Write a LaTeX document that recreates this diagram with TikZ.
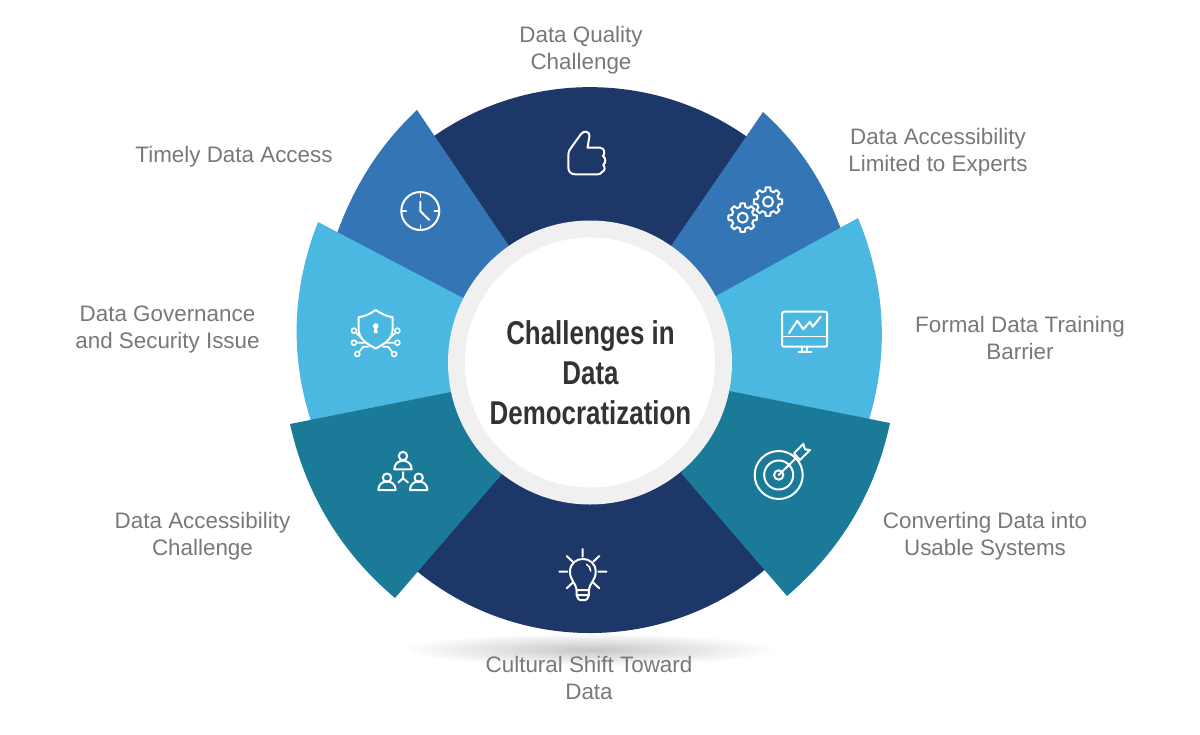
\documentclass[tikz,border=0pt]{standalone}
\usepackage{fontspec}
\setmainfont{Liberation Sans}
\newfontfamily\titlefont[FakeStretch=0.785]{Liberation Sans Bold}
\definecolor{navy}{HTML}{1C3768}
\definecolor{midblue}{HTML}{3476B5}
\definecolor{skyblue}{HTML}{4AB8E0}
\definecolor{teal2}{HTML}{1B7A98}
\definecolor{ringgray}{HTML}{F0F0F0}
\definecolor{labelgray}{HTML}{787878}
\definecolor{titlegray}{HTML}{333333}
\tikzset{
  label text/.style={font=\fontsize{22.4}{27}\selectfont, text=labelgray, align=center, inner sep=0pt},
  title text/.style={font=\titlefont\fontsize{33}{40}\selectfont, text=titlegray, align=center, inner sep=0pt},
  ic/.style={draw=white, line width=2pt, line join=round, line cap=round}
}
\newcommand{\geargen}[2]{%
  \begin{scope}[shift={(#1,#2)}]
    \draw[ic] (-22.5:11) \foreach \a in {0,45,...,315}{ -- (\a-14:11) -- (\a-9:14.4) -- (\a+9:14.4) -- (\a+14:11) -- (\a+22.5:11)} -- cycle;
    \draw[ic] (0,0) circle[radius=5];
  \end{scope}}
\newcommand{\personicon}[4]{% head x, head y, half width, base y
  \draw[ic] (#1,#2) circle[radius=4.2];
  \draw[ic] (#1-#3,#4) .. controls (#1-#3,#4-11.5) and (#1+#3,#4-11.5) .. (#1+#3,#4) -- cycle;}
\begin{document}
\begin{tikzpicture}[x=1pt,y=-1pt]
\useasboundingbox (0,0) rectangle (1200,734);
% floor shadow
\foreach \k in {1,...,28}
  \fill[black, opacity=0.0085] (590,650) ellipse[x radius={185*\k/28}, y radius={16*\k/28}];
% sectors
\path[fill=navy] (530,300) -- (414.5,151) arc[start angle=230, end angle=310, radius=273] -- (650,300) -- cycle;
\path[fill=navy] (530,430) -- (400.4,556.4) arc[start angle=134, end angle=46, radius=273] -- (650,430) -- cycle;
\path[fill=midblue] (509,246) -- (417,110) .. controls (380.67,144) and (354.33,184.67) .. (336,236) -- (470,310) -- cycle;
\path[fill=midblue] (671,246) -- (763,112) .. controls (798.67,144) and (824.33,182.67) .. (842,232) -- (710,310) -- cycle;
\path[fill=skyblue] (463,298) -- (318,222) .. controls (292,288.67) and (289.33,356) .. (312,424) -- (451,396) -- cycle;
\path[fill=skyblue] (716,296) -- (858,218) .. controls (886,286) and (889.33,354.33) .. (868,423) -- (729,395) -- cycle;
\path[fill=teal2] (451,392) -- (290,424) .. controls (305.67,494) and (340.67,552) .. (395,598) -- (502,474) -- cycle;
\path[fill=teal2] (729,391) -- (890,423) .. controls (875.13,492.33) and (840.8,550) .. (787,596) -- (681,473) -- cycle;
% hub
\fill[ringgray] (590,362.5) circle[radius=142];
\fill[white] (590,362.5) circle[radius=125];
\node[title text] (hub) at (590.5,373) {Challenges in\\Data\\Democratization};
% labels
\node[label text] (lquality) at (581,50) {Data Quality\\Challenge};
\node[label text] (lexperts) at (938,152.5) {Data Accessibility\\Limited to Experts};
\node[label text] (ltraining) at (1020,338) {Formal Data Training\\Barrier};
\node[label text] (lsystems) at (985,536.5) {Converting Data into\\Usable Systems};
\node[label text] (lculture) at (589,677.5) {Cultural Shift Toward\\Data};
\node[label text] (laccess) at (202.5,536.5) {Data Accessibility\\Challenge};
\node[label text] (lgov) at (167.5,329) {Data Governance\\and Security Issue};
\node[label text] (ltimely) at (234,157) {Timely Data Access};
% thumb icon
\draw[ic] (568.3,156) .. controls (568.3,151) and (570,149) .. (572,146.5) -- (581,134)
  .. controls (584,130) and (590,131.5) .. (589.5,136) -- (587.5,147.7) -- (600,147.7)
  .. controls (604.5,147.7) and (605.5,153.5) .. (603,156) .. controls (606,158) and (606,162.5) .. (603.2,165)
  .. controls (605.5,167) and (605,171) .. (602,172) .. controls (601,173.5) and (600,174.3) .. (598,174.3)
  -- (575,174.3) .. controls (571,174.3) and (568.3,171.5) .. (568.3,167.5) -- cycle;
% gears icon
\geargen{742.7}{217.7}
\geargen{768}{201.7}
% clock icon
\draw[ic] (420.3,211) circle[radius=19];
\draw[ic, line width=1.5pt] (420.3,192) -- (420.3,197) (420.3,230) -- (420.3,225) (401.3,211) -- (406.3,211) (439.3,211) -- (434.3,211);
\draw[ic] (420.3,201.7) -- (420.3,211) -- (429.3,220);
% shield icon
\draw[ic] (375.7,310) .. controls (370,314) and (364,316.5) .. (358.5,317.3) -- (358.5,329) .. controls (358.7,339) and (367,344) .. (375.7,348.5) .. controls (384.5,344) and (392.7,339) .. (392.7,329) -- (392.7,317.3) .. controls (387.5,316.5) and (381.5,314) .. (375.7,310) -- cycle;
\fill[white] (375.7,326) circle[radius=2.8];
\fill[white] (374.8,327) -- (373.6,333) -- (377.8,333) -- (376.6,327) -- cycle;
\foreach \px/\py in {354/330.7,354/342.7,357.3/354,397.4/330.7,397.4/342.7,394.1/354}
  \draw[ic, line width=1.6pt] (\px,\py) circle[radius=2.5];
\draw[ic, line width=1.6pt] (356.5,333.3) -- (361.7,338.3) (356.7,342.7) -- (365,342.7) (359.3,351.7) -- (363.3,346.7) -- (368.3,346.7);
\draw[ic, line width=1.6pt] (394.9,333.3) -- (389.7,338.3) (394.7,342.7) -- (386.4,342.7) (392.1,351.7) -- (388.1,346.7) -- (383.1,346.7);
% monitor icon
\draw[ic] (782,314) .. controls (782,312.5) and (782.7,311.7) .. (784.2,311.7) -- (825,311.7) .. controls (826.5,311.7) and (827.2,312.5) .. (827.2,314) -- (827.2,344.5) .. controls (827.2,346) and (826.5,346.7) .. (825,346.7) -- (784.2,346.7) .. controls (782.7,346.7) and (782,346) .. (782,344.5) -- cycle;
\draw[ic, line width=1.5pt] (782,336.7) -- (827.2,336.7);
\draw[ic] (802.3,346.7) -- (802.3,351.7) (807.3,346.7) -- (807.3,351.7) (798.3,351.7) -- (811.5,351.7);
\draw[ic] (789,333.3) -- (797.3,320.7) -- (803.3,329.3) -- (810,321.7) -- (812.7,326.7) -- (820.7,316.7);
% people icon
\personicon{403}{456}{8.7}{469.3}
\personicon{387}{477.7}{8.7}{490}
\personicon{418.7}{477.7}{8.7}{490}
\draw[ic] (403,472) -- (403,478.3) -- (398.3,482.5) (403,478.3) -- (408,482.5);
% target icon
\draw[ic] (778.7,475) circle[radius=24];
\draw[ic] (778.7,475) circle[radius=14.5];
\draw[ic] (778.7,475) circle[radius=4.7];
\draw[ic] (778.7,475) -- (796,458);
\draw[ic] (794,453.3) -- (803.3,444) -- (805,449.3) -- (810,450) -- (800,460) -- cycle;
% bulb icon
\draw[ic] (576.7,590) .. controls (576,583) and (570,580.5) .. (570,571.7) .. controls (570,554.7) and (595.7,554.7) .. (595.7,571.7) .. controls (595.7,580.5) and (589.5,583) .. (588.8,590) -- cycle;
\draw[ic, line width=1.6pt] (586.7,564.5) .. controls (589,565.7) and (590.5,568) .. (590.7,571);
\draw[ic] (576.7,590) -- (576.7,595.5) .. controls (577.5,598.5) and (579,600) .. (580,600) -- (585.5,600) .. controls (586.5,600) and (588,598.5) .. (588.8,595.5) -- (588.8,590) (576.7,595) -- (588.8,595);
\draw[ic] (582.7,549) -- (582.7,556.7) (559.3,571.7) -- (567.3,571.7) (598.3,571.7) -- (606.5,571.7) (566.7,556) -- (572.7,561.7) (599.3,556) -- (593.3,561.7) (566.7,588.3) -- (572.7,582.7) (599.3,588.3) -- (593.3,582.7);
\end{tikzpicture}
\end{document}
